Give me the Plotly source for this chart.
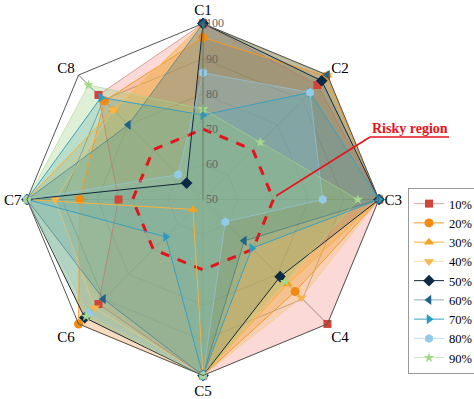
import plotly.graph_objects as go

categories = ['C1', 'C2', 'C3', 'C4', 'C5', 'C6', 'C7', 'C8']
series_names = ['10%', '20%', '30%', '40%', '50%', '60%', '70%', '80%', '90%']

v10 = [100, 96, 100, 100, 100, 92, 74, 92]
v20 = [96, 99.5, 100, 87, 100, 100, 85, 89.6]
v30 = [100, 100, 100, 84, 100, 54, 100, 86]
v40 = [100, 100, 100, 89.5, 100, 93.5, 92, 86]
v50 = [100, 97.7, 100, 81, 100, 97.5, 100, 56.6]
v60 = [100, 100, 100, 66.6, 100, 90, 100, 80]
v70 = [74, 93, 100, 69.6, 100, 65, 100, 91]
v80 = [86, 93, 84, 59, 100, 95.8, 100, 60]
v90 = [75.7, 73, 94, 83, 100, 97, 100, 96]

risky_level = [70, 70, 70, 70, 70, 70, 70, 70]
radial_ticks = [50, 60, 70, 80, 90, 100]

all_values = [v10, v20, v30, v40, v50, v60, v70, v80, v90]

marker_colors = ['#d0443a', '#f28a12', '#f7a21c', '#f9b548', '#0d2a45',
                 '#1f6488', '#2a9cc4', '#92cbe8', '#a5d98a']
line_colors = ['rgba(190,110,100,0.6)', '#f39a2a', '#f8b040', 'rgba(250,200,120,0.6)',
               '#13283c', 'rgba(40,110,140,0.55)', '#3aa0c0', 'rgba(150,200,230,0.6)',
               'rgba(170,215,140,0.6)']
fill_colors = ['rgba(243,160,155,0.40)', 'rgba(235,145,55,0.32)', 'rgba(240,165,65,0.30)',
               'rgba(245,190,95,0.28)', 'rgba(50,70,80,0.18)', 'rgba(40,115,135,0.28)',
               'rgba(55,155,185,0.26)', 'rgba(130,195,225,0.30)', 'rgba(150,205,120,0.30)']
symbols = ['square', 'circle', 'triangle-up', 'triangle-down', 'diamond',
           'triangle-left', 'triangle-right', 'hexagon', 'star']
sizes = [8, 9, 9, 9, 9, 9, 9, 9, 8]

theta_closed = categories + [categories[0]]

fig = go.Figure()

for vals, fc in zip(all_values, fill_colors):
    fig.add_trace(go.Scatterpolar(
        r=vals + [vals[0]], theta=theta_closed, mode='none', fill='toself',
        fillcolor=fc, showlegend=False, hoverinfo='skip'))

fig.add_trace(go.Scatterpolar(
    r=risky_level + [risky_level[0]], theta=theta_closed, mode='lines',
    line=dict(color='#e5141c', width=3, dash='dash'), showlegend=False))

for name, vals, mc, lc, sym, sz in zip(series_names, all_values, marker_colors,
                                         line_colors, symbols, sizes):
    fig.add_trace(go.Scatterpolar(
        r=vals + [vals[0]], theta=theta_closed, mode='lines+markers', name=name,
        line=dict(color=lc, width=1),
        marker=dict(symbol=sym, size=sz, color=mc, line=dict(width=0))))

fig.update_layout(
    width=474, height=399,
    margin=dict(l=0, r=0, t=0, b=0, autoexpand=False),
    paper_bgcolor='white',
    font=dict(family='Liberation Serif', color='black'),
    polar=dict(
        domain=dict(x=[0.057, 0.7996], y=[0.0589, 0.9411]),
        bgcolor='white',
        gridshape='linear',
        angularaxis=dict(
            categoryarray=categories, categoryorder='array',
            rotation=90, direction='clockwise',
            showline=True, linecolor='#555555', linewidth=1,
            gridcolor='#6f7f6a', gridwidth=1,
            ticks='outside', ticklen=2, tickcolor='rgba(0,0,0,0)',
            tickfont=dict(size=15, family='Liberation Serif', color='black')),
        radialaxis=dict(
            range=[50, 100], tickvals=radial_ticks, angle=90, tickangle=90,
            showline=True, linecolor='#6f7f6a', linewidth=1,
            gridcolor='#8a9488', gridwidth=1, ticks='',
            tickfont=dict(size=12, family='Liberation Serif', color='#666666'))),
    legend=dict(
        x=408 / 474, y=1 - 188 / 399, xanchor='left', yanchor='top',
        bgcolor='white', bordercolor='#999999', borderwidth=1,
        font=dict(size=12.5, family='Liberation Serif', color='black'),
        tracegroupgap=0, itemwidth=30),
    shapes=[
        dict(type='line', xref='paper', yref='paper',
             x0=276 / 474, y0=1 - 196 / 399, x1=370 / 474, y1=1 - 137 / 399,
             line=dict(color='#e5141c', width=1.5)),
        dict(type='line', xref='paper', yref='paper',
             x0=370 / 474, y0=1 - 137 / 399, x1=449 / 474, y1=1 - 137 / 399,
             line=dict(color='#e5141c', width=1.5)),
    ],
    annotations=[
        dict(text='<b>Risky region</b>', xref='paper', yref='paper',
             x=(370 + 449) / 2 / 474, y=1 - 129 / 399, xanchor='center', yanchor='middle',
             showarrow=False, font=dict(size=14, family='Liberation Serif', color='#e5141c'))
    ],
)

fig.write_html('out.html', config={'displayModeBar': False},
               post_script="document.body.style.margin='0';document.body.style.overflow='hidden';")
